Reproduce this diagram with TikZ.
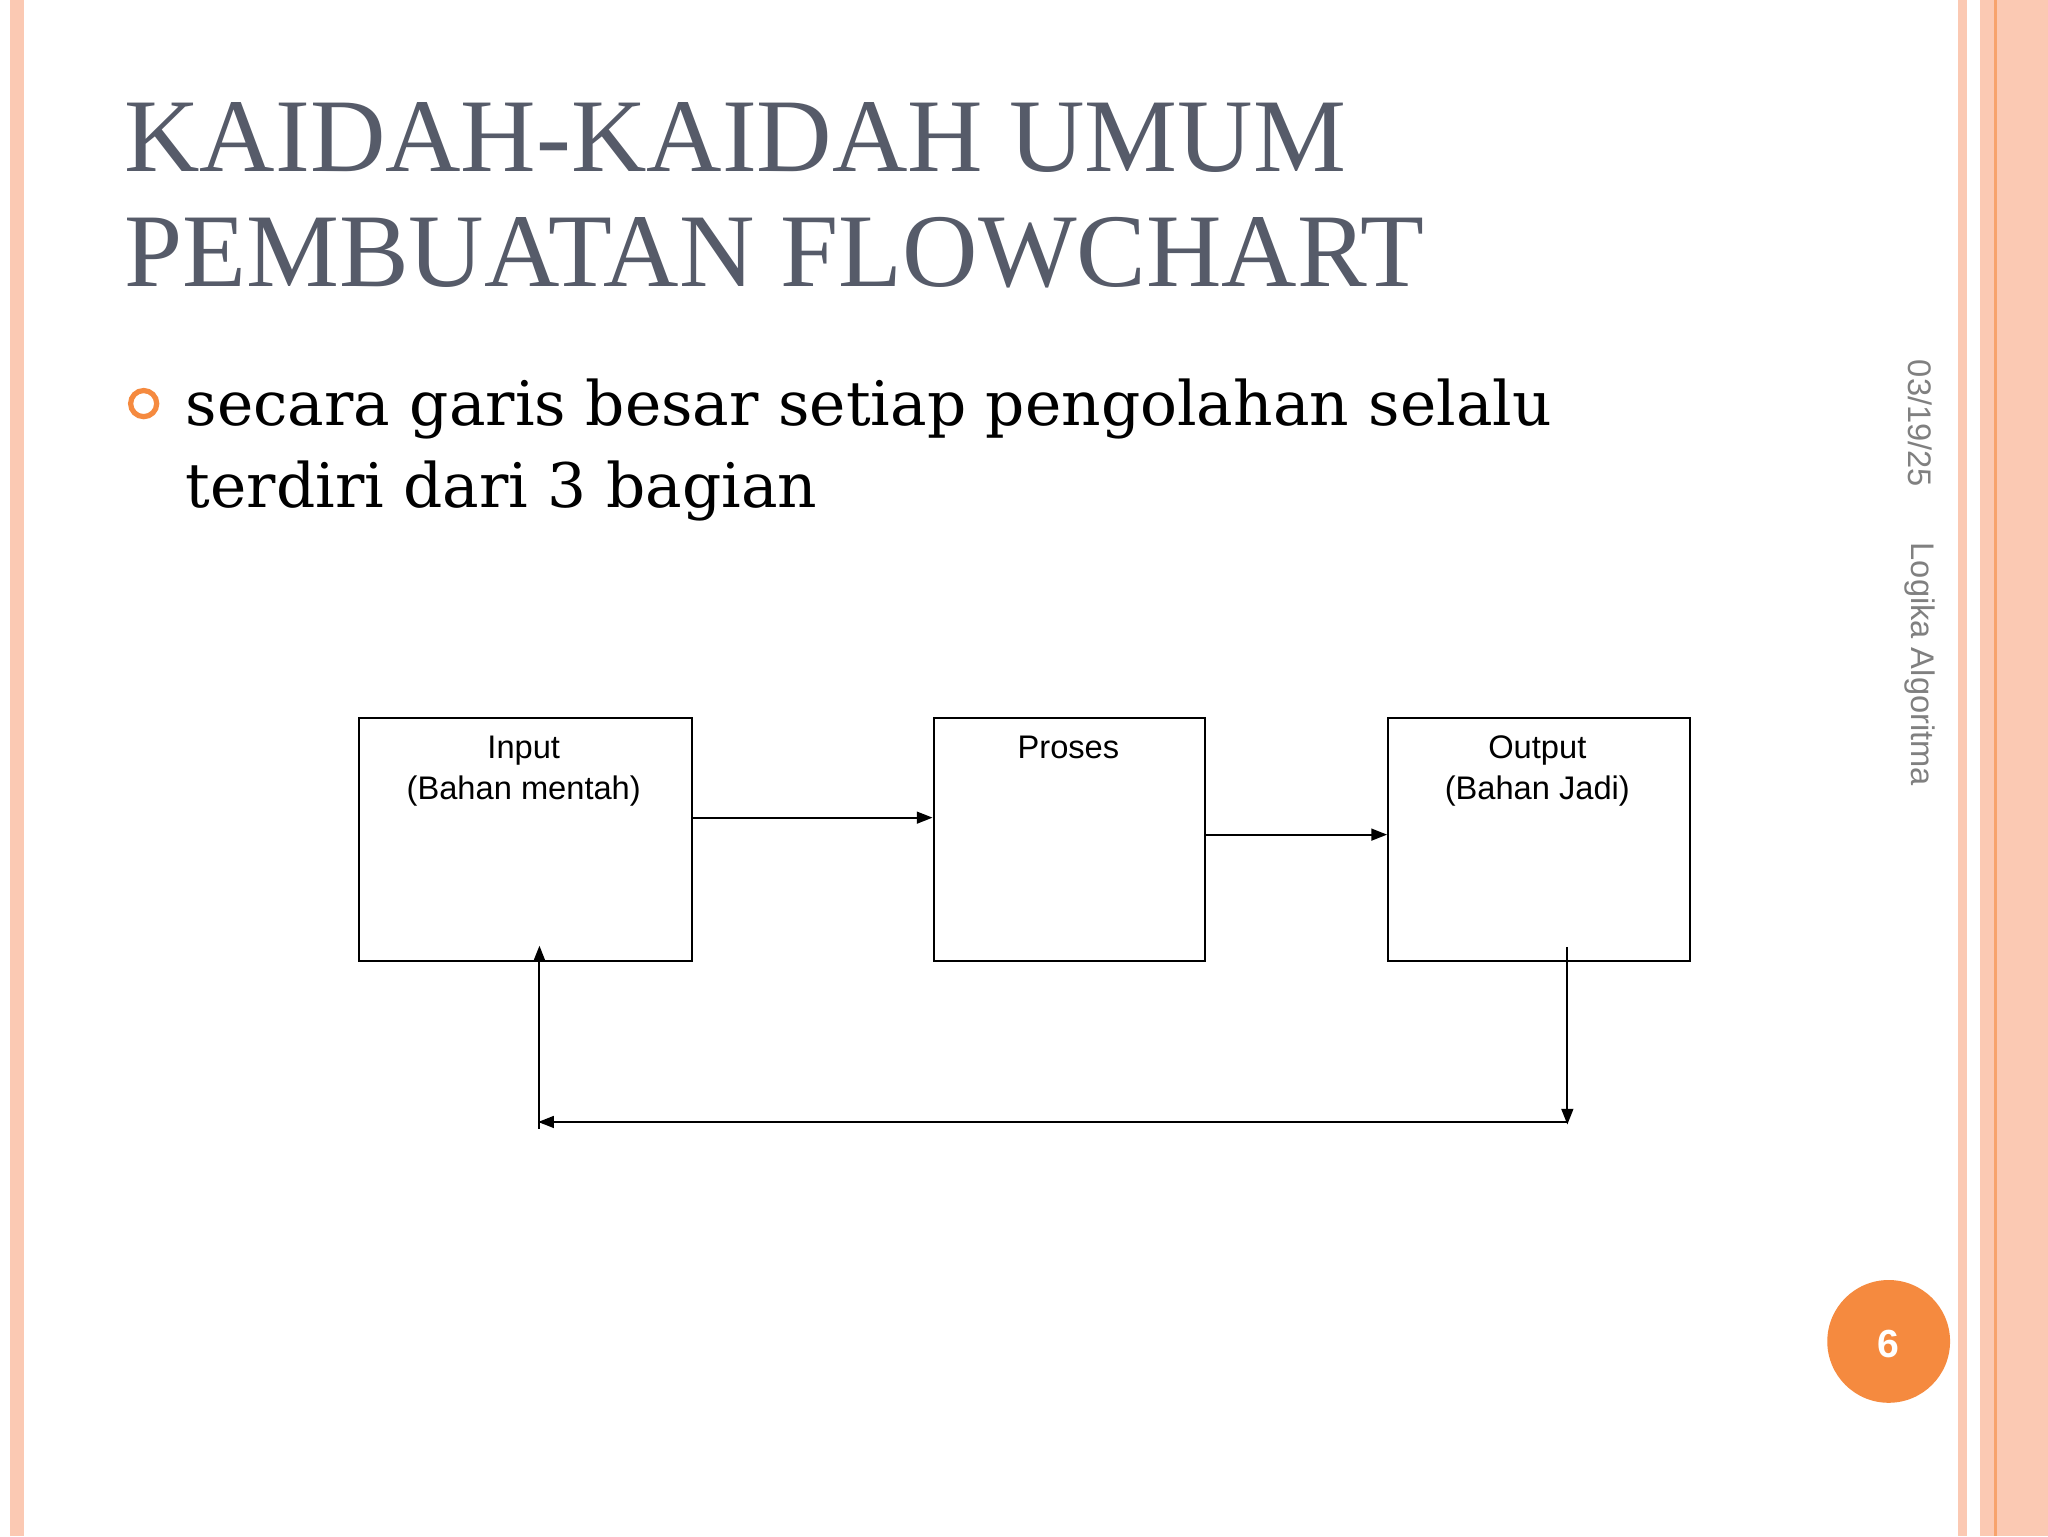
\documentclass[tikz,border=0pt]{standalone}
\usepackage{fontspec}
\newfontfamily\ttl{Liberation Serif}
\newfontfamily\bdy{DejaVu Serif}
\newfontfamily\arial{Liberation Sans}
\usetikzlibrary{arrows.meta}
\definecolor{pinkb}{HTML}{FBC9B3}
\definecolor{orng}{HTML}{F58A3F}
\definecolor{ttlc}{HTML}{565B69}
\begin{document}
\begin{tikzpicture}[x=1pt,y=-1pt,
  box/.style={draw,line width=1.5pt,anchor=north west,inner sep=0pt},
  boxtxt/.style={font=\arial\fontsize{25}{31}\selectfont,align=center,anchor=north},
  arr/.style={line width=1.5pt,-{Triangle[length=12pt,width=9pt]}}]
\useasboundingbox (0,0) rectangle (1568,1176);
\fill[white] (0,0) rectangle (1568,1176);
\fill[pinkb] (8,0) rectangle (18,1176);
\fill[pinkb] (1499,0) rectangle (1506,1176);
\fill[pinkb] (1516,0) rectangle (1568,1176);
\fill[orng!60!pinkb] (1527,0) rectangle (1529,1176);
\node[anchor=north west,inner sep=0pt,text=ttlc,font=\ttl\fontsize{80}{88}\selectfont,align=left] (title) at (95,78) {KAIDAH-KAIDAH UMUM\\PEMBUATAN FLOWCHART};
\draw[orng,line width=4pt] (110,309) circle (10);
\node[anchor=north west,inner sep=0pt,font=\bdy\fontsize{47}{63}\selectfont,align=left] (body) at (142,290) {secara garis besar setiap pengolahan selalu\\terdiri dari 3 bagian};
\node[rotate=-90,anchor=west,text=gray,font=\arial\fontsize{25}{25}\selectfont] (date) at (1470,272) {03/19/25};
\node[rotate=-90,anchor=west,text=gray,font=\arial\fontsize{25}{25}\selectfont] (foot) at (1470,412) {Logika Algoritma};
\fill[orng] (1446,1027) circle (47);
\node[text=white,font=\arial\bfseries\fontsize{30}{30}\selectfont] (num) at (1446,1029) {6};
\node[box,minimum width=255pt,minimum height=186pt] (in) at (274,549) {};
\node[box,minimum width=208pt,minimum height=186pt] (pr) at (714,549) {};
\node[box,minimum width=231pt,minimum height=186pt] (out) at (1062,549) {};
\node[boxtxt] (tin) at (401,560) {Input\\(Bahan mentah)};
\node[boxtxt] (tpr) at (818,560) {Proses};
\node[boxtxt] (tout) at (1177,560) {Output\\(Bahan Jadi)};
\coordinate (a1) at (in.east |- 0,626);
\coordinate (a2) at (pr.west |- 0,626);
\draw[arr] (a1) -- (a2);
\coordinate (b1) at (pr.east |- 0,639);
\coordinate (b2) at (out.west |- 0,639);
\draw[arr] (b1) -- (b2);
\coordinate (c1) at (1200,725);
\coordinate (c2) at (1200,861);
\coordinate (c3) at (1200,859);
\coordinate (c4) at (412,859);
\coordinate (c5) at (413,864);
\coordinate (c6) at (413,724);
\draw[arr] (c1) -- (c2);
\draw[arr] (c3) -- (c4);
\draw[arr] (c5) -- (c6);
\end{tikzpicture}
\end{document}
